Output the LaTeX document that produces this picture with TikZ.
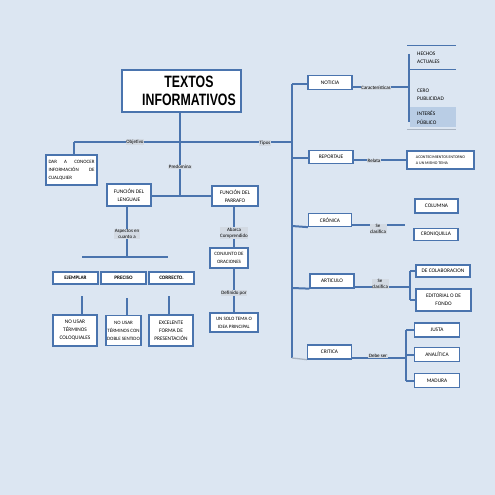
\documentclass[tikz,border=0pt]{standalone}
\usepackage{fontspec}
\usepackage{graphicx}
\setmainfont{Carlito}
\newfontfamily\titlefont{Liberation Sans}
\definecolor{bg}{HTML}{DCE6F2}
\definecolor{ln}{HTML}{4A74AE}
\definecolor{hl}{HTML}{B9CDE5}
\definecolor{lblbg}{HTML}{D3DAE3}
\definecolor{gl}{HTML}{A9B4C2}
\begin{document}
\begin{tikzpicture}[x=1bp,y=-1bp,
  box/.style={draw=ln, line width=1.3bp, fill=white, align=center, inner sep=1bp,
    font=\fontsize{5.4}{8}\selectfont},
  conn/.style={draw=ln, line width=2bp},
  lbl/.style={fill=lblbg, inner sep=0.6bp, align=center, font=\fontsize{5}{6}\selectfont},
  txt/.style={inner sep=0bp, align=left, font=\fontsize{5.4}{8.5}\selectfont},
]
\useasboundingbox[fill=bg] (0,0) rectangle (495,495);

% ---------- nodes ----------
\node[box, line width=1.6bp, minimum width=119bp, minimum height=42bp] (title) at (181.5,91) {};
\node[inner sep=0bp, align=center, font=\titlefont\bfseries\fontsize{16.5}{18}\selectfont] (titletext) at (189,91)
  {\scalebox{0.75}[1]{TEXTOS}\\\scalebox{0.75}[1]{INFORMATIVOS}};

\node[box, minimum width=51bp, minimum height=30bp, text width=46bp, align=justify, font=\fontsize{5}{8}\selectfont] (dar) at (71.5,170)
  {DAR A CONOCER INFORMACIÓN DE CUALQUIER};
\node[box, minimum width=44bp, minimum height=22bp] (fl) at (129,195) {FUNCIÓN DEL\\LENGUAJE};
\node[box, minimum width=46bp, minimum height=20bp] (fp) at (235,196) {FUNCIÓN DEL\\PARRAFO};

\node[box, minimum width=45bp, minimum height=12bp, font=\bfseries\fontsize{5.2}{6}\selectfont] (ej) at (75.5,278) {EJEMPLAR};
\node[box, minimum width=45bp, minimum height=12bp, font=\bfseries\fontsize{5.2}{6}\selectfont] (pr) at (123.5,278) {PRECISO};
\node[box, minimum width=45bp, minimum height=12bp, font=\bfseries\fontsize{5.2}{6}\selectfont] (co) at (171.5,278) {CORRECTO.};

\node[box, minimum width=44bp, minimum height=31bp] (n1) at (75,330.5) {NO USAR\\TÉRMINOS\\COLOQUIALES};
\node[box, minimum width=35bp, minimum height=30bp, inner sep=0.3bp, font=\fontsize{5}{8}\selectfont] (n2) at (123.5,330.5) {NO USAR\\TÉRMINOS CON\\DOBLE SENTIDO};
\node[box, minimum width=44bp, minimum height=31bp] (n3) at (171,330.5) {EXCELENTE\\FORMA DE\\PRESENTACIÓN};

\node[box, minimum width=38bp, minimum height=20bp, font=\fontsize{5}{8}\selectfont] (cj) at (229,258) {CONJUNTO DE\\ORACIONES};
\node[box, minimum width=48bp, minimum height=19bp, font=\fontsize{5}{8}\selectfont] (ut) at (234,322.5) {UN SOLO TEMA O\\IDEA PRINCIPAL};

% right column
\node[box, minimum width=44bp, minimum height=14bp] (not) at (330,82.5) {NOTICIA};
\node[box, minimum width=44bp, minimum height=13bp] (rep) at (331,157) {REPORTAJE};
\node[box, minimum width=43bp, minimum height=13bp] (cro) at (330,220) {CRÓNICA};
\node[box, minimum width=44bp, minimum height=14bp] (art) at (332,281) {ARTICULO};
\node[box, minimum width=44bp, minimum height=14bp] (cri) at (329.5,352) {CRITICA};

\fill[hl] (410,107) rectangle (456,127);
\node[txt] (hec) at (417,58) [anchor=west] {HECHOS\\ACTUALES};
\node[txt] (cer) at (417,95) [anchor=west] {CERO\\PUBLICIDAD};
\node[txt] (int) at (417,118) [anchor=west] {INTERÉS\\PÚBLICO};

\node[box, minimum width=67bp, minimum height=18bp, align=left, font=\fontsize{4}{6}\selectfont] (acon) at (440.5,160)
  {ACONTECIMIENTOS ENTORNO\\A UN MISMO TEMA};
\node[box, minimum width=43bp, minimum height=14bp] (col) at (436.5,206) {COLUMNA};
\node[box, minimum width=44bp, minimum height=12bp] (crq) at (436,234.5) {CRONIQUILLA};
\node[box, minimum width=54bp, minimum height=12bp] (dec) at (443,271) {DE COLABORACION};
\node[box, minimum width=55bp, minimum height=22bp] (edi) at (443.5,300) {EDITORIAL O DE\\FONDO};
\node[box, minimum width=45bp, minimum height=14bp] (jus) at (437,330) {JUSTA};
\node[box, minimum width=45bp, minimum height=14bp] (ana) at (437,354.5) {ANALÍTICA};
\node[box, minimum width=45bp, minimum height=14bp] (mad) at (437,380.5) {MADURA};

% ---------- coordinates ----------
\coordinate (hl) at (74,142);
\coordinate (hr) at (292,142);
\coordinate (st) at (292,84);
\coordinate (sb) at (292,358);
\coordinate (mid) at (180,196);
\coordinate (asp) at (127,257);
\coordinate (aspl) at (82,257);
\coordinate (aspr) at (168,257);
\coordinate (s1) at (82,296);
\coordinate (s2) at (127,298);
\coordinate (s3) at (169,296);
\coordinate (nb) at (409,87);
\coordinate (croend) at (405,225);
\coordinate (ab) at (410,287);
\coordinate (cb) at (406,358);

% ---------- connectors ----------
\draw[conn] (title.south -| mid) -- (mid);
\draw[conn] (fl.east |- mid) -- (fp.west |- mid);
\draw[conn] (hl) -- (hr);
\draw[conn] (hl) -- (hl |- dar.north);
\draw[conn] (st) -- (sb);

\draw[conn] (fl.south -| asp) -- (asp);
\draw[conn] (aspl) -- (aspr);
\draw[conn] (s1) -- (s1 |- n1.north);
\draw[conn] (s2) -- (s2 |- n2.north);
\draw[conn] (s3) -- (s3 |- n3.north);

\draw[conn] (fp.south -| 234,0) -- (cj.north -| 234,0);
\draw[conn] (cj.south -| 234,0) -- (ut.north -| 234,0);

\draw[conn] (st) -- (not.west |- st);
\draw[conn] (292,158) -- (rep.west |- 0,158);
\draw[conn] (292,226) -- (cro.south west);
\draw[conn] (292,288) -- (art.south west);
\draw[draw=gl, line width=1.3bp] (sb) -- (cri.south west);

\draw[conn] (not.east |- nb) -- (nb);
\draw[draw=ln, line width=1.6bp] (409,54) -- (409,122);
\draw[draw=ln, line width=1bp] (407,46) -- (456,46);
\draw[draw=ln, line width=1bp] (409,70) -- (456,70);
\draw[draw=gl, line width=0.8bp] (407,129) -- (456,129);

\draw[conn] (rep.east |- 0,160) -- (acon.west |- 0,160);

\draw[conn] (cro.east |- croend) -- (croend);

\draw[conn] (art.east |- ab) -- (ab);
\draw[conn] (dec.west -| ab) -- (edi.west -| ab);
\draw[conn] (dec.west -| ab) -- (dec.west);
\draw[conn] (edi.west -| ab) -- (edi.west);

\draw[conn] (cri.east |- cb) -- (cb);
\draw[conn] (jus.west -| cb) -- (mad.west -| cb);
\draw[conn] (jus.west -| cb) -- (jus.west);
\draw[conn] (ana.west -| cb) -- (ana.west);
\draw[conn] (mad.west -| cb) -- (mad.west);

% ---------- labels ----------
\node[lbl] (lobj) at (135,142) {Objetivo};
\node[lbl] (ltip) at (265,143) {Tipos};
\node[lbl] (lpre) at (180,167) {Predomina};
\node[lbl] (lcar) at (376,88) {Características};
\node[lbl] (lrel) at (374,161) {Relata};
\node[lbl] (lcro) at (378,229) {Se\\clasifica};
\node[lbl] (lart) at (380,284) {Se\\clasifica};
\node[lbl] (ldeb) at (378,356) {Debe ser};
\node[lbl] (lasp) at (127,234) {Aspectos en\\cuanto a};
\node[lbl] (laba) at (234,233) {Abarca\\Comprendido};
\node[lbl] (ldef) at (234,293) {Definido por};
\end{tikzpicture}
\end{document}
